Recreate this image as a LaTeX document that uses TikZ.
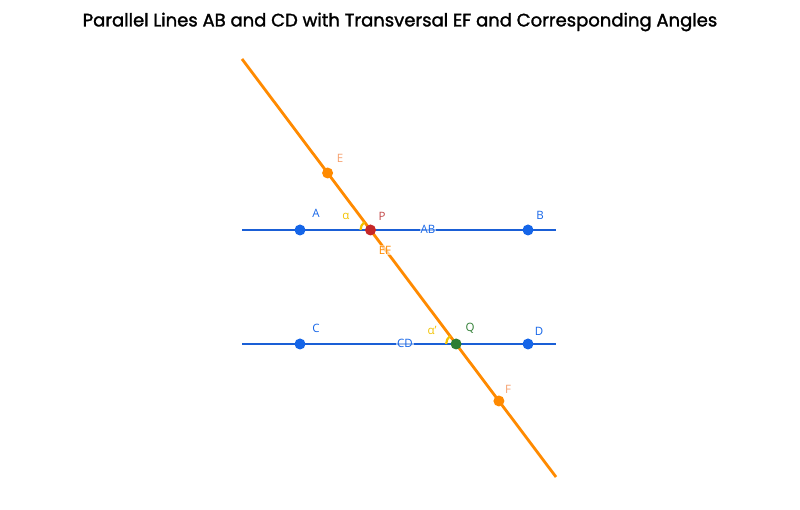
\documentclass[tikz,border=0pt]{standalone}
\usepackage{fontspec}
\setsansfont{Open Sans}
\newfontfamily\titlefont{Poppins}[RawFeature={embolden=1.6}]
\usetikzlibrary{angles}
\definecolor{lineblue}{HTML}{1A5FD6}
\definecolor{ptblue}{HTML}{1565E8}
\definecolor{transorange}{HTML}{FF8A00}
\definecolor{lblorange}{HTML}{F5A06E}
\definecolor{ptred}{HTML}{C62828}
\definecolor{lblred}{HTML}{C24848}
\definecolor{ptgreen}{HTML}{2E7D32}
\definecolor{anglegold}{HTML}{F2C200}
\begin{document}
\begin{tikzpicture}[x=1pt, y=1pt, font=\sffamily\fontsize{11.5}{13}\selectfont,
  dot/.style={circle, fill=#1, inner sep=0pt, minimum size=11pt},
  lbl/.style={text=#1, inner sep=1pt},
  seglbl/.style={text=#1, fill=white, fill opacity=0.6, text opacity=1, inner sep=1pt},
  parline/.style={lineblue, line width=2.8pt},
  transline/.style={transorange, line width=2.8pt},
  anglemark/.style={draw=anglegold, line width=2.2pt, angle radius=10pt}]
\useasboundingbox (0,0) rectangle (800,510);
\node[font=\titlefont\fontsize{18}{21}\selectfont] (title) at (400,488) {Parallel Lines AB and CD with Transversal EF and Corresponding Angles};
\coordinate (ab0) at (242,280);
\coordinate (ab1) at (556,280);
\coordinate (cd0) at (242,166);
\coordinate (cd1) at (556,166);
\coordinate (ef0) at (242,451);
\coordinate (ef1) at (556,33);
\coordinate (pP) at (370.5,280);
\coordinate (pQ) at (456.1,166);
\draw[parline] (ab0) -- (ab1);
\draw[parline] (cd0) -- (cd1);
\draw[transline] (ef0) -- (ef1);
\pic[anglemark] {angle = ef0--pP--ab0};
\pic[anglemark] {angle = ef0--pQ--cd0};
\node[dot=ptblue] (A) at (300,280) {};
\node[dot=ptblue] (B) at (528,280) {};
\node[dot=ptblue] (C) at (300,166) {};
\node[dot=ptblue] (D) at (528,166) {};
\node[dot=transorange] (E) at (327.6,337) {};
\node[dot=transorange] (F) at (498.9,109) {};
\node[dot=ptred] (P) at (pP) {};
\node[dot=ptgreen] (Q) at (pQ) {};
\node[lbl=ptblue] at (316,297) {A};
\node[lbl=ptblue] at (540,295) {B};
\node[lbl=ptblue] at (316,182) {C};
\node[lbl=ptblue] at (539,179) {D};
\node[lbl=lblorange] at (340,352) {E};
\node[lbl=lblorange] at (508,121) {F};
\node[lbl=lblred] at (382,294) {P};
\node[lbl=ptgreen] at (470,182) {Q};
\node[lbl=anglegold] at (346,294) {α};
\node[lbl=anglegold] at (432,180) {α'};
\node[seglbl=ptblue] (abl) at (428,281) {AB};
\node[seglbl=ptblue] (cdl) at (405,167) {CD};
\node[seglbl=transorange] (efl) at (385,260) {EF};
\end{tikzpicture}
\end{document}
